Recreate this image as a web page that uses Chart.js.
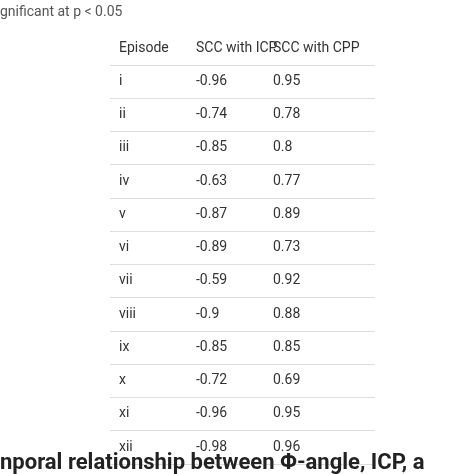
<!DOCTYPE html>
<html><head><meta charset="utf-8">
<script src="https://cdn.jsdelivr.net/npm/chart.js@4"></script>
<style>html,body{margin:0;padding:0;background:#fff}#w{width:474px;height:474px}</style>
</head><body><div id="w"><canvas id="c" width="474" height="474"></canvas></div>
<script>
const headers = ["Episode", "SCC with ICP", "SCC with CPP"];
const episodes = ["i","ii","iii","iv","v","vi","vii","viii","ix","x","xi","xii"];
const sccICP = ["-0.96","-0.74","-0.85","-0.63","-0.87","-0.89","-0.59","-0.9","-0.85","-0.72","-0.96","-0.98"];
const sccCPP = ["0.95","0.78","0.8","0.77","0.89","0.73","0.92","0.88","0.85","0.69","0.95","0.96"];
const topNote = "gnificant at p < 0.05";
const caption = "nporal relationship between Φ-angle, ICP, a";

const tablePlugin = {
  id: 'table',
  afterDraw(chart) {
    const ctx = chart.ctx;
    const x = chart.scales.x, y = chart.scales.y;
    ctx.save();
    ctx.textBaseline = 'middle';
    ctx.fillStyle = '#555';
    ctx.font = '14px Roboto';
    ctx.fillText(topNote, 0, 12);
    const cols = [0, 1, 2];
    const rows = [headers].concat(episodes.map((e, i) => [e, sccICP[i], sccCPP[i]]));
    rows.forEach((r, ri) => {
      const yy = y.getPixelForValue(ri);
      ctx.fillStyle = '#333';
      ctx.font = '14px Roboto';
      cols.forEach(ci => ctx.fillText(r[ci], x.getPixelForValue(ci), yy));
      const ly = y.getPixelForValue(ri + 0.5);
      ctx.strokeStyle = '#ddd'; ctx.lineWidth = 1;
      ctx.beginPath(); ctx.moveTo(110, Math.round(ly) + 0.5); ctx.lineTo(375, Math.round(ly) + 0.5); ctx.stroke();
    });
    ctx.fillStyle = '#222';
    ctx.font = 'bold 22px Roboto';
    ctx.fillText(caption, 0, 463);
    ctx.restore();
  }
};

new Chart(document.getElementById('c'), {
  type: 'scatter',
  data: { datasets: [{ data: [], pointRadius: 0 }] },
  options: {
    responsive: false, animation: false,
    layout: { padding: 0 },
    plugins: { legend: { display: false }, tooltip: { enabled: false } },
    scales: {
      x: { type: 'linear', display: false, min: -1.545, max: 4.61 },
      y: { type: 'linear', display: false, reverse: true, min: -1.444, max: 12.81 }
    }
  },
  plugins: [tablePlugin]
});
</script></body></html>
